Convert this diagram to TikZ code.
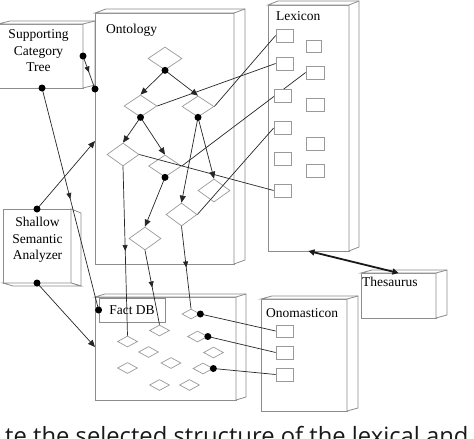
\documentclass[tikz,border=0pt]{standalone}
\usepackage{fontspec}
\setmainfont{Liberation Serif}
\newfontfamily\capfont{Open Sans}
\usetikzlibrary{arrows.meta,decorations.markings,shapes.geometric,calc}
\definecolor{bgray}{HTML}{8C8C8C}
\definecolor{dgray}{HTML}{9A9A9A}
\pgfdeclarelayer{back}
\pgfdeclarelayer{lines}
\pgfsetlayers{back,lines,main}
\newcommand\mkdepth[3]{%
  \draw[face] (#1.north west) -- ++(#2,#3) -- ($(#1.north east)+(#2,#3)$) -- ($(#1.south east)+(#2,#3)$) -- (#1.south east) -- (#1.north east) -- cycle;
  \draw[draw=bgray,line width=0.8pt] (#1.north east) -- ++(#2,#3);}
\begin{document}
\begin{tikzpicture}[x=1pt,y=-1pt,
  face/.style={draw=bgray,line width=0.8pt,fill=white},
  boxn/.style={face,anchor=north west,inner sep=0pt,outer sep=0pt},
  lbl/.style={anchor=base west,inner sep=0pt,font=\fontsize{13.5}{16}\selectfont},
  clbl/.style={anchor=base,inner sep=0pt,font=\fontsize{13.5}{16}\selectfont},
  odia/.style={diamond,draw=dgray,line width=0.7pt,fill=white,inner sep=0pt,minimum width=33pt,minimum height=23pt},
  fdia/.style={diamond,draw=dgray,line width=0.7pt,fill=white,inner sep=0pt,minimum width=20pt,minimum height=11pt},
  sbox/.style={draw=dgray,line width=0.7pt,fill=white,inner sep=0pt,minimum height=13pt},
  conn/.style={draw=black!85,line width=0.7pt},
  arrowend/.style={-{Triangle[length=7pt,width=6pt]}},
  midarrow/.style={postaction={decorate},decoration={markings,mark=at position 0.5 with {\arrow{Triangle[length=6pt,width=5pt]}}}},
  dotn/.style={circle,fill=black,inner sep=0pt,minimum size=7pt},
]
\useasboundingbox (0,0) rectangle (474,439);
\begin{pgfonlayer}{back}
% big boxes
\node[boxn,minimum width=85pt,minimum height=64pt] (sct) at (-2,24) {};
\mkdepth{sct}{12}{-3}
\node[boxn,minimum width=139pt,minimum height=251pt] (onto) at (95,13) {};
\mkdepth{onto}{11}{-4}
\node[boxn,minimum width=81pt,minimum height=246pt] (lex) at (268,5) {};
\mkdepth{lex}{10}{-4}
\node[boxn,minimum width=75pt,minimum height=45pt] (thes) at (361,273) {};
\mkdepth{thes}{11}{-3}
\node[boxn,minimum width=86pt,minimum height=112pt] (onom) at (261,299) {};
\mkdepth{onom}{11}{-3}
\node[boxn,minimum width=141pt,minimum height=103pt] (fact) at (95,297) {};
\mkdepth{fact}{10}{-3}
\node[boxn,minimum width=68pt,minimum height=74pt] (ssa) at (3,209) {};
\draw[face] (ssa.north east) -- ++(10,4) -- ($(ssa.south east)+(10,3)$) -- (ssa.south east) -- cycle;
\draw[face] (ssa.south west) -- ($(ssa.south west)+(10,3)$) -- ($(ssa.south east)+(10,3)$) -- (ssa.south east) -- cycle;
% labels
\node[clbl] (t1) at (38.5,38.5) {Supporting};
\node[clbl] (t2) at (38.5,55) {Category};
\node[clbl] (t3) at (38.5,71) {Tree};
\node[lbl] (tonto) at (106,33.5) {Ontology};
\node[lbl] (tlex) at (276,20) {Lexicon};
\node[lbl] (tthes) at (362,286) {Thesaurus};
\node[lbl] (tonom) at (266,317) {Onomasticon};
\node[clbl] (s1) at (37.5,226) {Shallow};
\node[clbl] (s2) at (37.5,243) {Semantic};
\node[clbl] (s3) at (37.5,259) {Analyzer};
\node[draw=bgray,line width=0.8pt,fill=white,minimum width=66pt,minimum height=24pt,inner sep=0pt,font=\fontsize{13.5}{16}\selectfont] (fdl) at (132,310) {Fact DB};
% ontology diamonds
\node[odia,minimum width=34pt] (D1) at (165,58.5) {};
\node[odia,minimum height=22pt] (D2) at (140.5,106) {};
\node[odia,minimum width=32pt,minimum height=21pt] (D3) at (198,106.5) {};
\node[odia,minimum width=32pt] (D4) at (123,154.5) {};
\node[odia,minimum height=22pt] (D5) at (165,166) {};
\node[odia,minimum width=32pt] (D6) at (214,190.5) {};
\node[odia,minimum width=31pt] (D7) at (181.5,214.5) {};
\node[odia,minimum width=32pt] (D8) at (145,238.5) {};
% fact diamonds
\node[fdia,minimum width=18pt,minimum height=10pt] (Fa) at (191,314) {};
\node[fdia] (Fb) at (159.5,330.5) {};
\node[fdia] (Fc) at (197.5,336.5) {};
\node[fdia] (Fd) at (127.5,341.5) {};
\node[fdia] (Fe) at (148.5,352) {};
\node[fdia] (Ff) at (213.5,352.5) {};
\node[fdia] (Fg) at (171,363) {};
\node[fdia] (Fh) at (127.5,368) {};
\node[fdia] (Fi) at (203,368.5) {};
\node[fdia] (Fj) at (159.5,385) {};
\node[fdia] (Fk) at (189.5,385) {};
\end{pgfonlayer}
% lexicon small boxes
\node[sbox,minimum width=17pt] (L1) at (284.5,35.5) {};
\node[sbox,minimum width=17pt] (L2) at (284.5,63.5) {};
\node[sbox,minimum width=17pt] (L3) at (282.5,95.5) {};
\node[sbox,minimum width=17pt] (L4) at (282.5,128) {};
\node[sbox,minimum width=17pt] (L5) at (282.5,158.5) {};
\node[sbox,minimum width=17pt] (L6) at (282.5,190.5) {};
\node[sbox,minimum width=15pt,minimum height=12pt] (R1) at (313.5,46) {};
\node[sbox,minimum width=18pt] (R2) at (315,72.5) {};
\node[sbox,minimum width=18pt] (R3) at (315,104.5) {};
\node[sbox,minimum width=18pt] (R4) at (315,143.5) {};
\node[sbox,minimum width=18pt] (R5) at (315,171) {};
% onomasticon boxes
\node[sbox,minimum width=17pt,minimum height=12pt] (O1) at (284.5,331) {};
\node[sbox,minimum width=17pt] (O2) at (284.5,352.5) {};
\node[sbox,minimum width=17pt] (O3) at (284.5,374.5) {};
% coordinates
\coordinate (sctB) at (42,88);
\coordinate (ontoL) at (95,89);
\coordinate (ontoIn) at (95,141);
\coordinate (factIn) at (95,347);
\begin{pgfonlayer}{lines}
\draw[conn,midarrow] (sct.east) -- (ontoL);
\draw[conn,midarrow] (sctB) -- (fdl.west);
\draw[conn,arrowend] (ssa.north) -- (ontoIn);
\draw[conn,arrowend] (ssa.south) -- (factIn);
\draw[conn,arrowend] (D1.south) -- (D2.north);
\draw[conn,arrowend] (D1.south) -- (D3.north);
\draw[conn,arrowend] (D2.south) -- (D4.north);
\draw[conn,arrowend] (D2.south) -- (D5.north);
\draw[conn,arrowend] (D3.south) -- (D7.north);
\draw[conn,arrowend] (D3.south) -- (D6.north);
\draw[conn,arrowend] (D5.south) -- (D8.north);
\draw[conn,midarrow] (D4.south) -- (Fd.north);
\draw[conn,midarrow] (D8.south) -- (Fb.north);
\draw[conn,midarrow] (D7.south) -- (Fa.north);
\draw[conn] (D3.east) -- (L1.west);
\draw[conn] (D2.east) -- (L2.west);
\draw[conn] (R2.west) -- (D5.east);
\draw[conn] (L4.west) -- (D7.east);
\draw[conn] (L6.west) -- (D4.east);
\draw[conn] (Fa.east) -- (O1.west);
\draw[conn] (Fc.east) -- (O2.west);
\draw[conn] (Fi.east) -- (O3.west);
\draw[draw=black!90,line width=1.8pt,{Triangle[length=6pt,width=6pt]}-{Triangle[length=6pt,width=6pt]}] (lex.south) -- (thes.north);
\end{pgfonlayer}
% dots
\node[dotn] (k1) at (sct.east) {};
\node[dotn] (k2) at (ontoL) {};
\node[dotn] (k3) at (sctB) {};
\node[dotn] (k4) at (fdl.west) {};
\node[dotn] (k5) at (ssa.north) {};
\node[dotn] (k6) at (ssa.south) {};
\node[dotn] (k7) at (D1.south) {};
\node[dotn] (k8) at (D2.south) {};
\node[dotn] (k9) at (D3.south) {};
\node[dotn] (k10) at (D5.south) {};
\node[dotn] (k11) at (Fa.east) {};
\node[dotn] (k12) at (Fc.east) {};
\node[dotn] (k13) at (Fi.east) {};
% caption (cut off)
\node[anchor=base west,inner sep=0pt,text=black!90,font=\capfont\fontsize{23.8}{28}\selectfont] (cap) at (5,444.7) {te the selected structure of the lexical and};
\end{tikzpicture}
\end{document}
